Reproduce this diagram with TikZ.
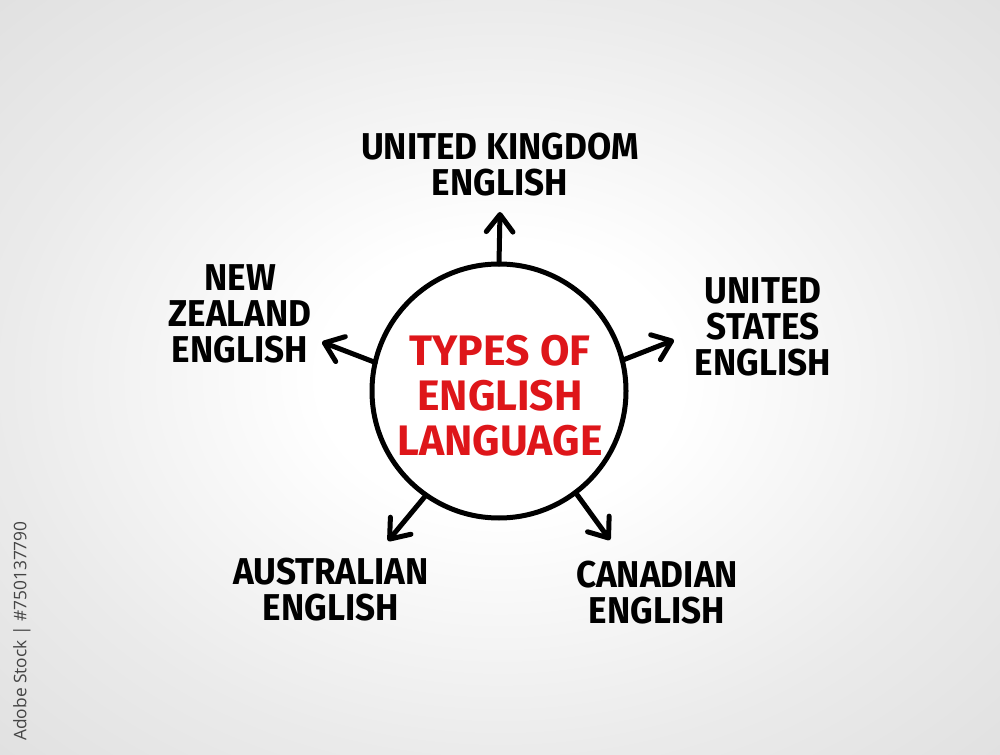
\documentclass[tikz,border=0pt]{standalone}
\usepackage{fontspec}
\setmainfont{Fira Sans}
\newfontfamily\hand[FakeStretch=0.94]{Fira Sans}
\newfontfamily\handwide[FakeStretch=1.0]{Fira Sans}
\newfontfamily\stockfont{Open Sans}
\usetikzlibrary{arrows.meta}
\definecolor{tred}{RGB}{222,22,26}
\definecolor{stockgray}{RGB}{68,68,68}
\pgfdeclareradialshading{bgshade}{\pgfpoint{0bp}{0bp}}{color(0bp)=(white); color(9bp)=(white); color(25bp)=(gray!16); color(36bp)=(gray!24); color(50bp)=(gray!24)}
\begin{document}
\begin{tikzpicture}[x=0.75pt,y=-0.75pt,
  lbl/.style={font=\hand\bfseries\fontsize{28}{27}\selectfont, align=center, inner sep=0pt, text=black},
  ttl/.style={font=\handwide\bfseries\fontsize{32}{33.75}\selectfont, align=center, inner sep=0pt, text=tred},
  hub/.style={circle, draw=black, fill=white, line width=3.75pt, minimum size=190.5pt, inner sep=0pt, outer sep=0pt},
  arr/.style={-{Straight Barb[length=13pt,width=20pt,round]}, line width=3.75pt, line cap=round, draw=black}]
\shade[shading=bgshade] (0,0) rectangle (1000,755);
\useasboundingbox (0,0) rectangle (1000,755);

\node[hub] (c) at (499,391) {};
\node[ttl] (t) at (500,396) {TYPES OF\\ENGLISH\\LANGUAGE};

\node[lbl] (uk) at (500,165) {UNITED KINGDOM\\ENGLISH};
\node[lbl] (nz) at (240,314) {NEW\\ZEALAND\\ENGLISH};
\node[lbl] (us) at (763,327) {UNITED\\STATES\\ENGLISH};
\node[lbl] (au) at (331,590) {AUSTRALIAN\\ENGLISH};
\node[lbl] (ca) at (657,593) {CANADIAN\\ENGLISH};

\coordinate (ukTip) at (500,212);
\coordinate (nzTip) at (322,342);
\coordinate (usTip) at (674,340);
\coordinate (auTip) at (388,541);
\coordinate (caTip) at (610,540);

\draw[arr] (c.90) -- (ukTip);
\draw[arr] (c.167) -- (nzTip);
\draw[arr] (c.14) -- (usTip);
\draw[arr] (c.235) -- (auTip);
\draw[arr] (c.-53) -- (caTip);

\node[rotate=90, font=\stockfont\fontsize{13}{15}\selectfont, text=stockgray, inner sep=0pt] (stock) at (22,631) {Adobe Stock | \#750137790};
\end{tikzpicture}
\end{document}
